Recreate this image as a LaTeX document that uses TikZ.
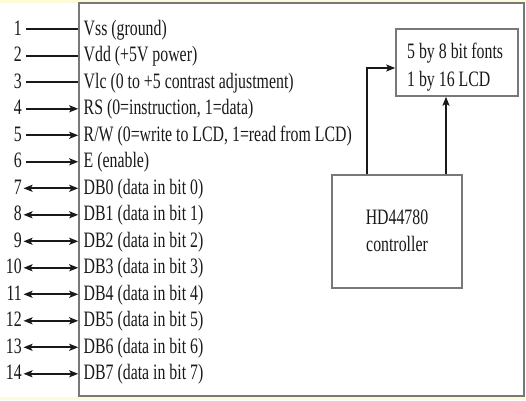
\documentclass[tikz,border=0pt]{standalone}
\usepackage{fontspec}
\newfontfamily\narrowserif[FakeStretch=0.72]{Liberation Serif}
\usetikzlibrary{arrows.meta}
\definecolor{bgyellow}{RGB}{252,250,215}
\definecolor{boxgray}{RGB}{120,120,120}
\definecolor{inkc}{RGB}{25,25,25}
\begin{document}
\begin{tikzpicture}[x=1pt,y=-1pt,
  txt/.style={inner sep=0pt, font=\narrowserif\fontsize{22}{27}\selectfont, text=inkc, text height=15pt, text depth=3pt},
  pinnum/.style={txt, anchor=east},
  pintxt/.style={txt, anchor=west},
  box/.style={draw=boxgray, line width=1.5pt, inner sep=0pt},
  wire/.style={draw=inkc, line width=2pt},
  tip/.tip={Stealth[length=9pt,width=7pt,inset=2pt]},
  arr/.style={wire, -tip},
  darr/.style={wire, tip-tip}
]
\useasboundingbox (0,0) rectangle (526,400);
\fill[bgyellow] (0,0) rectangle (526,400);
\fill[white] (0,2.5) rectangle (526,396.5);

\node[box, minimum width=445pt, minimum height=393pt] (main) at (301.5,199.5) {};

\foreach \i/\lab in {1/{Vss (ground)},
  2/{Vdd (+5V power)},
  3/{Vlc (0 to +5 contrast adjustment)},
  4/{RS (0=instruction, 1=data)},
  5/{R/W (0=write to LCD, 1=read from LCD)},
  6/{E (enable)},
  7/{DB0 (data in bit 0)},
  8/{DB1 (data in bit 1)},
  9/{DB2 (data in bit 2)},
  10/{DB3 (data in bit 3)},
  11/{DB4 (data in bit 4)},
  12/{DB5 (data in bit 5)},
  13/{DB6 (data in bit 6)},
  14/{DB7 (data in bit 7)}}{
  \pgfmathsetmacro\yy{29.3+(\i-1)*26.5}
  \node[pinnum] (n\i) at (22,\yy) {\i};
  \node[pintxt] (t\i) at (83.5,\yy) {\lab};
}

\foreach \i in {1,2,3}
  \draw[wire, shorten <=4pt] (n\i.east) -- (main.west |- n\i.east);
\foreach \i in {4,5,6}
  \draw[arr, shorten <=4pt] (n\i.east) -- (main.west |- n\i.east);
\foreach \i in {7,...,14}
  \draw[darr, shorten <=1.5pt] (n\i.east) -- (main.west |- n\i.east);

\node[box, minimum width=130pt, minimum height=113pt] (ctrl) at (397,231.5) {};
\node[txt] (c1) at (397,218) {HD44780};
\node[txt] (c2) at (397,245) {controller};

\node[box, minimum width=122pt, minimum height=67pt] (lcd) at (457,62.5) {};
\node[pintxt] (l1) at (407,52.5) {5 by 8 bit fonts};
\node[pintxt] (l2) at (407,80) {1 by 16 LCD};

\coordinate (bend) at (367,68);
\draw[arr] (ctrl.north -| bend) |- (lcd.west |- bend);
\coordinate (upx) at (446,0);
\draw[arr] (ctrl.north -| upx) -- (lcd.south -| upx);
\end{tikzpicture}
\end{document}
